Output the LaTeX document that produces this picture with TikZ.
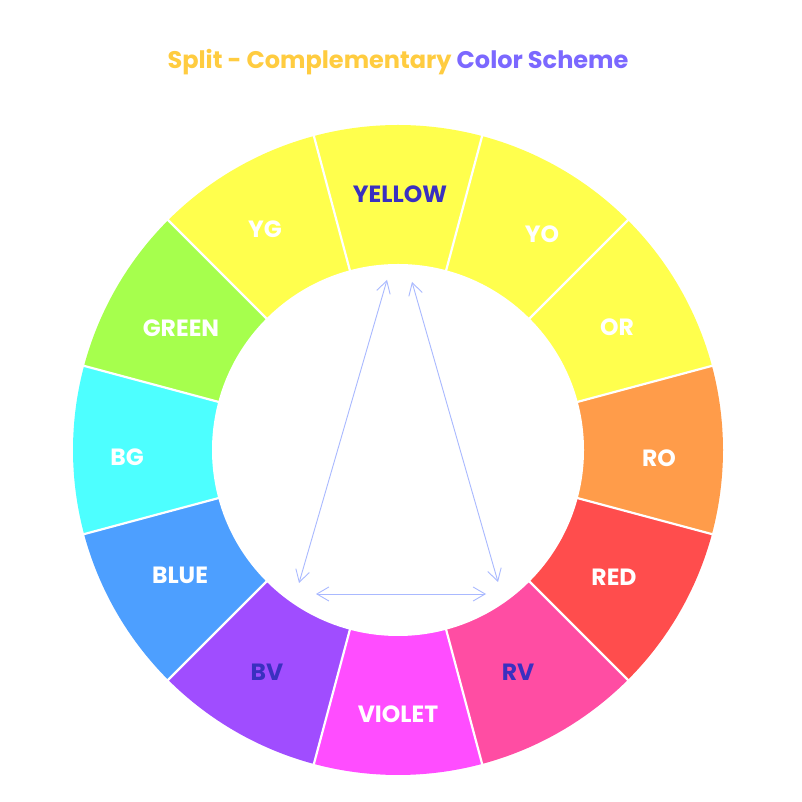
\documentclass[tikz,border=0pt]{standalone}
\usepackage{fontspec}
\setmainfont{Poppins}
\newfontfamily\pbold{Poppins Bold}
\usetikzlibrary{arrows.meta}
\definecolor{cYellow}{HTML}{FFFF4D}
\definecolor{cOrange}{HTML}{FF9C4A}
\definecolor{cRed}{HTML}{FF4D4D}
\definecolor{cRV}{HTML}{FF4DA3}
\definecolor{cViolet}{HTML}{FF4DFF}
\definecolor{cBV}{HTML}{A04DFF}
\definecolor{cBlue}{HTML}{4D9FFF}
\definecolor{cBG}{HTML}{4DFFFF}
\definecolor{cGreen}{HTML}{A6FF4D}
\definecolor{cDark}{HTML}{3A30C0}
\definecolor{cTitleY}{HTML}{FFCC40}
\definecolor{cTitleP}{HTML}{7B68FF}
\definecolor{cArrow}{HTML}{A9B9FF}
\tikzset{
  lbl/.style={font=\pbold\fontsize{23.5}{25}\selectfont, text=white, inner sep=0pt, text height=16pt, text depth=0pt},
  dlbl/.style={lbl, text=cDark},
  gap/.style={white, line width=2.2pt},
  arr/.style={cArrow, line width=0.9pt, {Straight Barb[length=12pt,width=14pt]}-{Straight Barb[length=12pt,width=14pt]}}
}
\begin{document}
\begin{tikzpicture}[x=1pt,y=1pt]
\useasboundingbox (0,0) rectangle (802,802);
\fill[white] (0,0) rectangle (802,802);
\coordinate (c) at (398,352);
% sectors
\foreach \t/\col in {90/cYellow,60/cYellow,30/cYellow,0/cOrange,-30/cRed,-60/cRV,-90/cViolet,-120/cBV,-150/cBlue,180/cBG,150/cGreen,120/cYellow}{
  \fill[\col] (c) -- ++(\t-15:325) arc[start angle=\t-15, end angle=\t+15, radius=325] -- cycle;
}
\foreach \t in {15,45,...,345}{
  \draw[gap] (c) -- ++(\t:330);
}
\fill[white] (c) circle[radius=186];
% labels
\node[dlbl] (yellow) at (400,607) {YELLOW};
\node[lbl] (yo) at (542,567) {YO};
\node[lbl] (or) at (617,474) {OR};
\node[lbl] (ro) at (659,343) {RO};
\node[lbl] (red) at (614,224) {RED};
\node[dlbl] (rv) at (518,129) {RV};
\node[lbl] (violet) at (398,87) {VIOLET};
\node[dlbl] (bv) at (267,129) {BV};
\node[lbl] (blue) at (180,226) {BLUE};
\node[lbl] (bg) at (127,344) {BG};
\node[lbl] (green) at (181,473) {GREEN};
\node[lbl] (yg) at (265,572) {YG};
% title
\node[font=\pbold\fontsize{24}{27}\selectfont, inner sep=0pt, text height=17pt, text depth=0pt] (title) at (398,742) {\textcolor{cTitleY}{Split - Complementary} \textcolor{cTitleP}{Color Scheme}};
% arrows
\coordinate (a1) at (387,522);
\coordinate (a2) at (299,219);
\coordinate (b1) at (412,520);
\coordinate (b2) at (498,220);
\coordinate (h1) at (316,208);
\coordinate (h2) at (486,208);
\draw[arr] (a1) -- (a2);
\draw[arr] (b1) -- (b2);
\draw[arr] (h1) -- (h2);
\end{tikzpicture}
\end{document}
